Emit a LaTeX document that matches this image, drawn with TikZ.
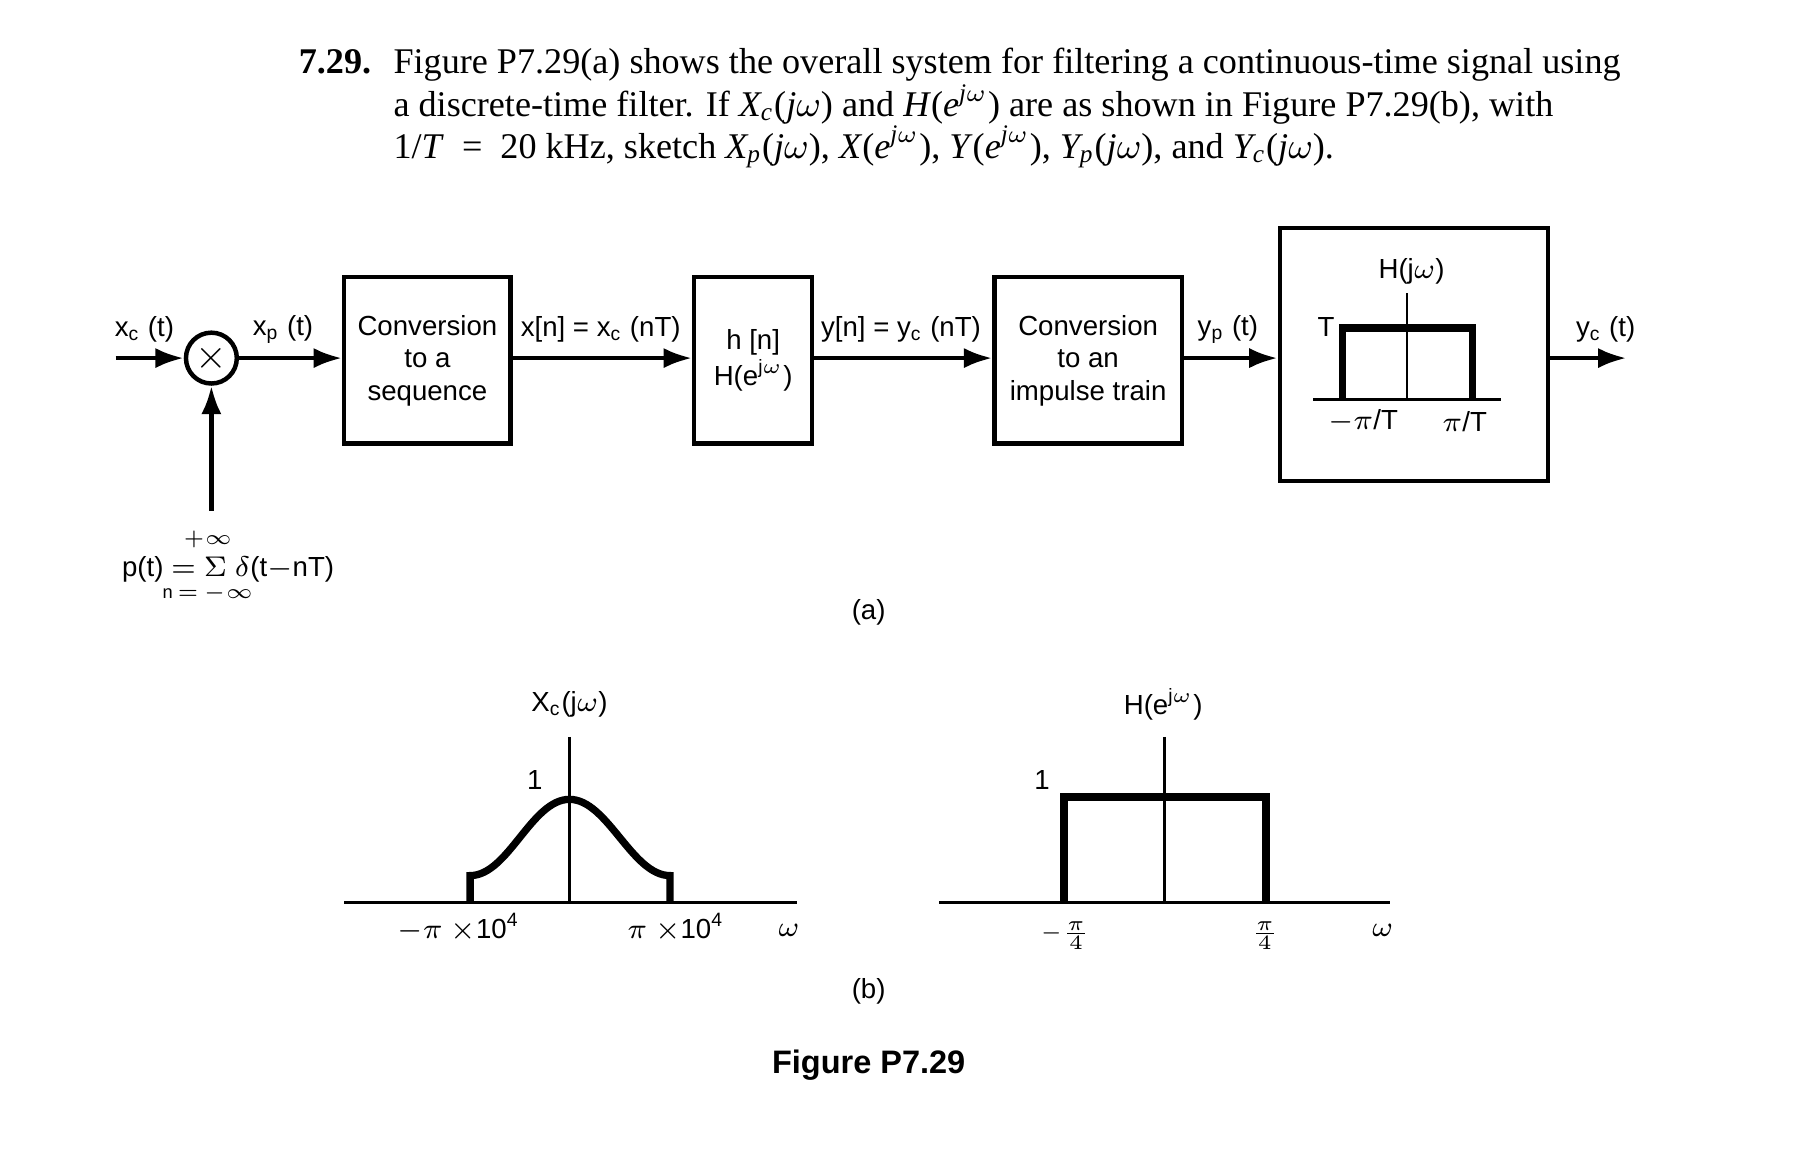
\documentclass[tikz,border=0pt]{standalone}
\usepackage{fontspec}
\setmainfont{Liberation Serif}
\newfontfamily\mysf{Liberation Sans}
\usetikzlibrary{arrows.meta}
\begin{document}
\begin{tikzpicture}[x=0.01cm,y=-0.01cm,
  lab/.style={font=\mysf\fontsize{6.8}{8}\selectfont,inner sep=0pt},
  sm/.style={font=\mysf\fontsize{4.5}{5}\selectfont,inner sep=0pt},
  hd/.style={anchor=base west,inner sep=0,font=\fontsize{8.9}{11}\selectfont},
  blk/.style={draw,line width=1.1pt},
  sig/.style={line width=1.1pt,-{Latex[length=7pt,width=5pt]}},
  thick2/.style={line width=1.8pt}]
\useasboundingbox (0,0) rectangle (1560,1009);
% header
\node[hd,font=\fontsize{8.9}{11}\selectfont\bfseries] (num) at (258,64) {7.29.};
\node[hd] (l1) at (340,64) {Figure P7.29(a) shows the overall system for filtering a continuous-time signal using};
\node[hd] (l2) at (340,101) {a discrete-time filter. If \textit{X\textsubscript{c}}(\textit{j}$\omega$) and \textit{H}(\textit{e}\textsuperscript{\textit{j}$\omega$}) are as shown in Figure P7.29(b), with};
\node[hd] (l3) at (340,137) {1/\textit{T}~~=~~20 kHz, sketch \textit{X\textsubscript{p}}(\textit{j}$\omega$), \textit{X}(\textit{e}\textsuperscript{\textit{j}$\omega$}), \textit{Y}(\textit{e}\textsuperscript{\textit{j}$\omega$}), \textit{Y\textsubscript{p}}(\textit{j}$\omega$), and \textit{Y\textsubscript{c}}(\textit{j}$\omega$).};
% blocks
\coordinate (in) at (100,310);
\node[draw,circle,line width=1.1pt,inner sep=0pt,minimum size=0.44cm] (m) at (183,310) {$\times$};
\node[blk,minimum width=1.44cm,minimum height=1.44cm,align=center,lab] (b1) at (370,312) {Conversion\\to a\\sequence};
\node[blk,minimum width=1.02cm,minimum height=1.44cm,align=center,lab] (b2) at (652,312) {h [n]\\[1pt]H(e\textsuperscript{j$\omega$})};
\node[blk,minimum width=1.62cm,minimum height=1.44cm,align=center,lab] (b3) at (942,312) {Conversion\\to an\\impulse train};
\node[blk,minimum width=2.32cm,minimum height=2.19cm] (b4) at (1224,307) {};
\coordinate (out) at (1408,310);
\coordinate (pin) at (183,442);
\draw[sig] (in) -- (m);
\draw[sig] (m) -- (b1.west|-m);
\draw[sig] (b1.east|-m) -- (b2.west|-m);
\draw[sig] (b2.east|-m) -- (b3.west|-m);
\draw[sig] (b3.east|-m) -- (b4.west|-m);
\draw[sig] (b4.east|-m) -- (out);
\draw[sig] (pin) -- (m);
\node[lab] (t1) at (125,285) {x\textsubscript{c} (t)};
\node[lab] (t2) at (245,285) {x\textsubscript{p} (t)};
\node[lab] (t3) at (520,285) {x[n] = x\textsubscript{c} (nT)};
\node[lab] (t4) at (780,285) {y[n] = y\textsubscript{c} (nT)};
\node[lab] (t5) at (1063,285) {y\textsubscript{p} (t)};
\node[lab] (t6) at (1390,285) {y\textsubscript{c} (t)};
% inner plot
\draw[line width=0.6pt] (1137,346) -- (1299,346);
\draw[line width=0.6pt] (1218,254) -- (1218,346);
\draw[thick2] (1162,346) -- (1162,284) -- (1275,284) -- (1275,346);
\node[lab] (hj) at (1222,235) {H(j$\omega$)};
\node[lab] (tt) at (1148,283) {T};
\node[lab] (mpt) at (1180,365) {$-\pi$/T};
\node[lab] (ppt) at (1268,365) {$\pi$/T};
% p(t)
\node[lab,anchor=west] (pt) at (105,493) {p(t) $=$ $\Sigma$ $\delta$(t$-$nT)};
\node[sm] (pinf) at (180,467) {$+\infty$};
\node[sm] (minf) at (180,514) {n $=$ $-\infty$};
\node[lab] (a) at (752,530) {(a)};
% bottom left
\draw[line width=0.8pt] (298,781) -- (690,781);
\draw[line width=0.6pt] (493,638) -- (493,781);
\draw[thick2] (407,781) -- (407,758) .. controls (440,758) and (460,692) .. (493,692)
  .. controls (526,692) and (547,758) .. (580,758) -- (580,781);
\node[lab] (xc) at (493,610) {X\textsubscript{c}(j$\omega$)};
\node[lab] (o1) at (463,675) {1};
\node[lab] (mx) at (397,803) {$-\pi$ $\times$10\textsuperscript{4}};
\node[lab] (px) at (585,803) {$\pi$ $\times$10\textsuperscript{4}};
\node[lab] (w1) at (683,805) {$\omega$};
% bottom right
\draw[line width=0.8pt] (813,781) -- (1203,781);
\draw[line width=0.6pt] (1008,638) -- (1008,781);
\draw[thick2] (921,781) -- (921,690) -- (1096,690) -- (1096,781);
\node[lab] (he) at (1007,610) {H(e\textsuperscript{j$\omega$})};
\node[lab] (o2) at (902,675) {1};
\node[sm] (m4) at (922,810) {$-\frac{\pi}{4}$};
\node[sm] (p4) at (1095,810) {$\frac{\pi}{4}$};
\node[lab] (w2) at (1197,805) {$\omega$};
\node[lab] (b) at (752,858) {(b)};
\node[font=\mysf\bfseries\fontsize{8}{10}\selectfont,inner sep=0] (fig) at (752,922) {Figure P7.29};
\end{tikzpicture}
\end{document}
